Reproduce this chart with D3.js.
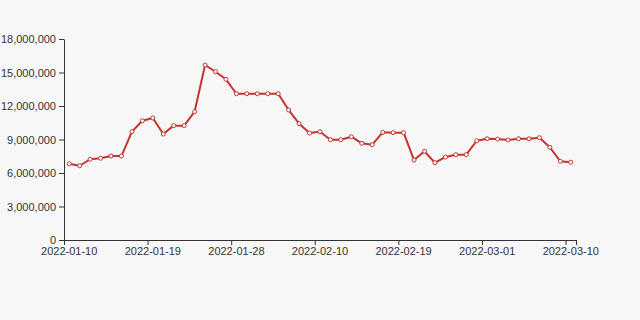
<!DOCTYPE html>
<html>
<head>
<meta charset="utf-8">
<script src="https://cdn.jsdelivr.net/npm/d3@7"></script>
<style>
  html, body { margin: 0; padding: 0; background: #f7f7f7; }
  svg { display: block; font-family: "Liberation Sans", Arial, sans-serif; }
</style>
</head>
<body>
<div id="chart"></div>
<script>
// categories (dates) and series values
const dates = [
  "2022-01-10", "2022-01-11", "2022-01-12", "2022-01-13", "2022-01-14", "2022-01-15", "2022-01-17", "2022-01-18",
  "2022-01-19", "2022-01-20", "2022-01-21", "2022-01-22", "2022-01-24", "2022-01-25", "2022-01-26", "2022-01-27",
  "2022-01-28", "2022-01-29", "2022-01-30", "2022-02-05", "2022-02-06", "2022-02-07", "2022-02-08", "2022-02-09",
  "2022-02-10", "2022-02-11", "2022-02-12", "2022-02-14", "2022-02-15", "2022-02-16", "2022-02-17", "2022-02-18",
  "2022-02-19", "2022-02-20", "2022-02-21", "2022-02-22", "2022-02-23", "2022-02-24", "2022-02-25", "2022-02-28",
  "2022-03-01", "2022-03-02", "2022-03-03", "2022-03-04", "2022-03-05", "2022-03-07", "2022-03-08", "2022-03-09",
  "2022-03-10"
];
const values = [
  6830000, 6650000, 7230000, 7320000, 7520000, 7520000, 9700000, 10680000,
  10930000, 9490000, 10240000, 10240000, 11490000, 15670000, 15070000, 14390000,
  13100000, 13100000, 13100000, 13100000, 13100000, 11640000, 10420000, 9580000,
  9700000, 8980000, 8980000, 9250000, 8660000, 8540000, 9640000, 9610000,
  9610000, 7160000, 7940000, 6920000, 7430000, 7640000, 7640000, 8890000,
  9070000, 9040000, 8960000, 9070000, 9070000, 9160000, 8300000, 7050000,
  6960000
];
const yTicks = [0, 3000000, 6000000, 9000000, 12000000, 15000000, 18000000];
const labelEvery = 8;

const width = 640, height = 320;
const margin = { top: 39, right: 64, bottom: 80, left: 64 };
const lineColor = "#c23531";
const axisColor = "#333";

const svg = d3.select("#chart").append("svg")
    .attr("width", width)
    .attr("height", height);

svg.append("rect").attr("width", width).attr("height", height).attr("fill", "#f7f7f7");

const x = d3.scaleBand()
    .domain(dates)
    .range([margin.left, width - margin.right]);

const y = d3.scaleLinear()
    .domain([0, 18000000])
    .range([height - margin.bottom, margin.top]);

// y axis
svg.append("g")
    .attr("transform", `translate(${margin.left},0)`)
    .call(d3.axisLeft(y).tickValues(yTicks).tickFormat(d3.format(",")).tickSize(5).tickSizeOuter(0).tickPadding(3))
    .call(g => g.select(".domain").attr("stroke", axisColor))
    .call(g => g.selectAll(".tick line").attr("stroke", axisColor))
    .call(g => g.selectAll("text").attr("fill", "#333").style("font-size", "11px"));

// x axis: labels at band centres, ticks at band boundaries
const labelDates = dates.filter((d, i) => i % labelEvery === 0);
const xAxis = svg.append("g")
    .attr("transform", `translate(0,${height - margin.bottom})`)
    .call(d3.axisBottom(x).tickValues(labelDates).tickSize(0).tickSizeOuter(0).tickPadding(7))
    .call(g => g.select(".domain").attr("stroke", axisColor))
    .call(g => g.selectAll(".tick line").remove())
    .call(g => g.selectAll("text").attr("fill", "#333").style("font-size", "11px"));

const tickPos = labelDates.map(d => x(d)).concat([x.range()[1]]);
xAxis.selectAll("line.bt")
    .data(tickPos)
    .join("line")
    .attr("class", "bt")
    .attr("x1", d => d + 0.5).attr("x2", d => d + 0.5)
    .attr("y1", 0).attr("y2", 5)
    .attr("stroke", axisColor);

// line
const pts = dates.map((d, i) => ({ date: d, value: values[i] }));
const line = d3.line()
    .x(d => x(d.date) + x.bandwidth() / 2)
    .y(d => y(d.value));

svg.append("path")
    .datum(pts)
    .attr("fill", "none")
    .attr("stroke", lineColor)
    .attr("stroke-width", 2)
    .attr("stroke-linejoin", "round")
    .attr("d", line);

svg.append("g")
    .selectAll("circle")
    .data(pts)
    .join("circle")
    .attr("cx", d => x(d.date) + x.bandwidth() / 2)
    .attr("cy", d => y(d.value))
    .attr("r", 2)
    .attr("fill", "#fff")
    .attr("stroke", lineColor)
    .attr("stroke-width", 1);
</script>
</body>
</html>
